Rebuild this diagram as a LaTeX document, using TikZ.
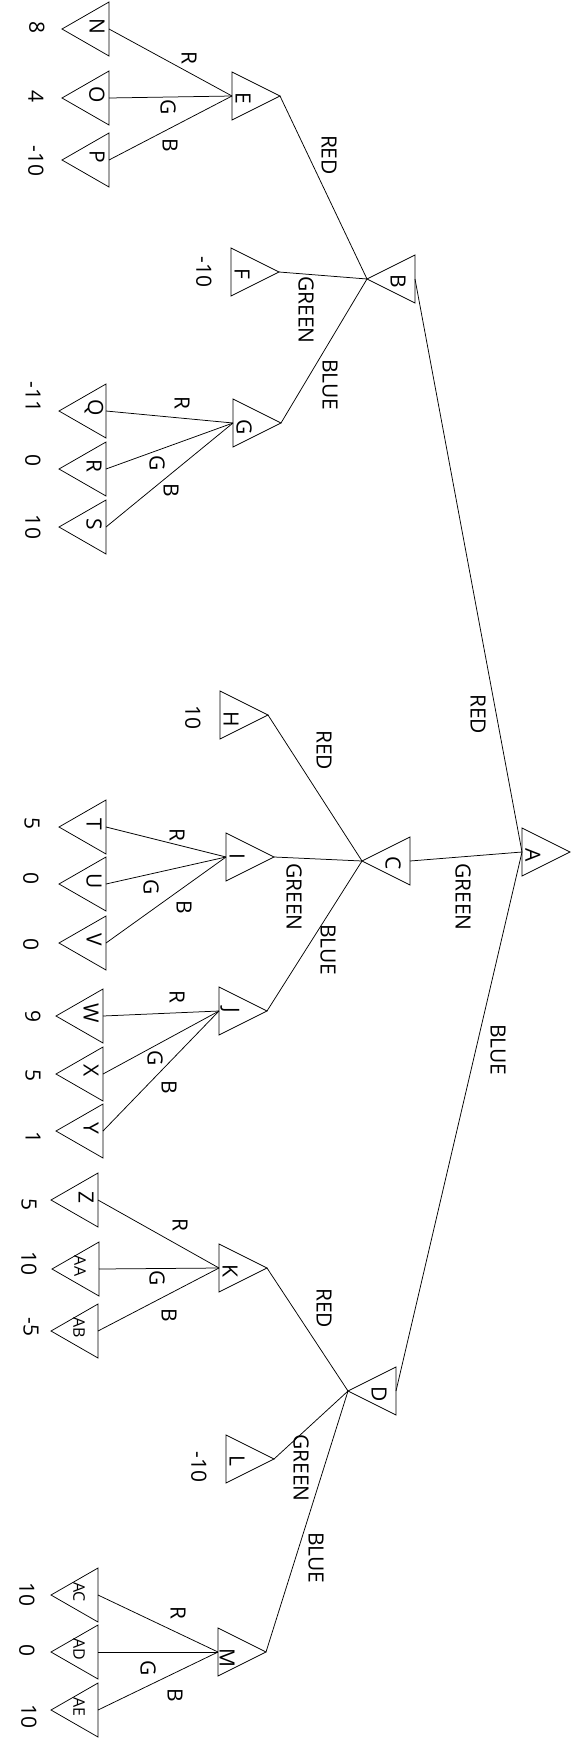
\documentclass[tikz,border=0pt]{standalone}
\usepackage{fontspec}
\setmainfont{Open Sans}
\newcommand{\maxtri}[5][11]{%
  \coordinate (#2-in) at (#3,#4);
  \coordinate (#2-out) at ({#3+48},#4);
  \draw[tri] (#3,{#4-24}) -- ({#3+48},#4) -- (#3,{#4+24}) -- cycle;
  \node[nlbl, anchor=west] (#2) at ({#3+#1},{#4-4}) {#5};
}
\newcommand{\mintri}[4]{%
  \coordinate (#1-out) at (#2,#3);
  \coordinate (#1-in) at ({#2-48},#3);
  \draw[tri] (#2,{#3-24}) -- ({#2-48},#3) -- (#2,{#3+24}) -- cycle;
  \node[nlbl, anchor=west] (#1) at ({#2-17},{#3-5}) {#4};
}
\newcommand{\leaftri}[6][12]{%
  \coordinate (#2-out) at (#3,#4);
  \draw[tri] (#3,{#4-27}) -- ({#3-47},#4) -- (#3,{#4+27}) -- cycle;
  \node[#6] (#2) at ({#3-#1},{#4-3}) {#5};
}
\begin{document}
\begin{tikzpicture}[x=1pt,y=-1pt,
  tri/.style={draw=black, line width=0.75pt, line join=miter},
  conn/.style={draw=black, line width=0.75pt},
  nlbl/.style={rotate=-90, inner sep=0pt, font=\fontsize{21}{25}\selectfont},
  lf/.style={rotate=-90, inner sep=0pt, font=\fontsize{21}{25}\selectfont},
  lftwo/.style={rotate=-90, inner sep=0pt, font=\fontsize{16}{19}\selectfont},
  elbl/.style={rotate=-90, inner sep=0pt, font=\fontsize{21}{25}\selectfont},
  vlbl/.style={rotate=-90, inner sep=0pt, font=\fontsize{21}{25}\selectfont}]
\useasboundingbox (0,0) rectangle (571,1745);

% internal nodes
\maxtri{A}{522}{852}{A}
\mintri{B}{415}{279}{B}
\mintri{C}{410}{861}{C}
\mintri{D}{396}{1391}{D}
\maxtri{E}{232}{96}{E}
\maxtri{F}{231}{272}{F}
\maxtri{G}{233}{423}{G}
\maxtri{H}{220}{715}{H}
\maxtri{I}{226}{857}{I}
\maxtri{J}{219}{1011}{J}
\maxtri{K}{219}{1268}{K}
\maxtri{L}{226}{1459}{L}
\maxtri[9]{M}{218}{1652}{M}

% leaves
\leaftri{N}{109}{29}{N}{lf}
\leaftri{O}{109}{98}{O}{lf}
\leaftri{P}{109}{160}{P}{lf}
\leaftri{Q}{106}{411}{Q}{lf}
\leaftri{R}{106}{469}{R}{lf}
\leaftri{S}{106}{527}{S}{lf}
\leaftri{T}{106}{827}{T}{lf}
\leaftri{U}{106}{884}{U}{lf}
\leaftri{V}{106}{943}{V}{lf}
\leaftri{W}{103}{1016}{W}{lf}
\leaftri{X}{103}{1074}{X}{lf}
\leaftri{Y}{103}{1131}{Y}{lf}
\leaftri{Z}{98}{1200}{Z}{lf}
\leaftri[19]{AA}{99}{1269}{AA}{lftwo}
\leaftri[19]{AB}{98}{1331}{AB}{lftwo}
\leaftri[19]{AC}{98}{1595}{AC}{lftwo}
\leaftri[19]{AD}{98}{1652}{AD}{lftwo}
\leaftri[19]{AE}{98}{1710}{AE}{lftwo}

% connectors
\draw[conn] (A-in) -- (B-out);
\draw[conn] (A-in) -- (C-out);
\draw[conn] (A-in) -- (D-out);
\draw[conn] (B-in) -- (E-out);
\draw[conn] (B-in) -- (F-out);
\draw[conn] (B-in) -- (G-out);
\draw[conn] (C-in) -- (H-out);
\draw[conn] (C-in) -- (I-out);
\draw[conn] (C-in) -- (J-out);
\draw[conn] (D-in) -- (K-out);
\draw[conn] (D-in) -- (L-out);
\draw[conn] (D-in) -- (M-out);
\foreach \p/\c in {E/N,E/O,E/P,G/Q,G/R,G/S,I/T,I/U,I/V,J/W,J/X,J/Y,K/Z,K/AA,K/AB,M/AC,M/AD,M/AE}
  \draw[conn] (\p-in) -- (\c-out);

% edge labels
\node[elbl] (lAB) at (478,714) {RED};
\node[elbl] (lAC) at (463,897) {GREEN};
\node[elbl] (lAD) at (498,1050) {BLUE};
\node[elbl] (lBE) at (329,155) {RED};
\node[elbl] (lBF) at (306,310) {GREEN};
\node[elbl] (lBG) at (330,385) {BLUE};
\node[elbl] (lCH) at (324,750) {RED};
\node[elbl] (lCI) at (294,897) {GREEN};
\node[elbl] (lCJ) at (328,950) {BLUE};
\node[elbl] (lDK) at (324,1308) {RED};
\node[elbl] (lDL) at (301,1468) {GREEN};
\node[elbl] (lDM) at (316,1558) {BLUE};
\node[elbl] (lEN) at (189,58) {R};
\node[elbl] (lEO) at (168,107) {G};
\node[elbl] (lEP) at (170,145) {B};
\node[elbl] (lGQ) at (182,403) {R};
\node[elbl] (lGR) at (157,463) {G};
\node[elbl] (lGS) at (171,490) {B};
\node[elbl] (lIT) at (177,835) {R};
\node[elbl] (lIU) at (151,887) {G};
\node[elbl] (lIV) at (184,907) {B};
\node[elbl] (lJW) at (177,997) {R};
\node[elbl] (lJX) at (155,1058) {G};
\node[elbl] (lJY) at (169,1087) {B};
\node[elbl] (lKZ) at (180,1225) {R};
\node[elbl] (lKAA) at (157,1278) {G};
\node[elbl] (lKAB) at (169,1315) {B};
\node[elbl] (lMAC) at (178,1613) {R};
\node[elbl] (lMAD) at (148,1668) {G};
\node[elbl] (lMAE) at (175,1695) {B};

% values
\node[vlbl] (vN) at (37,28) {8};
\node[vlbl] (vO) at (36,97) {4};
\node[vlbl] (vP) at (36,161) {-10};
\node[vlbl] (vF) at (204,272) {-10};
\node[vlbl] (vQ) at (33,397) {-11};
\node[vlbl] (vR) at (33,460) {0};
\node[vlbl] (vS) at (33,527) {10};
\node[vlbl] (vH) at (193,717) {10};
\node[vlbl] (vT) at (32,823) {5};
\node[vlbl] (vU) at (31,878) {0};
\node[vlbl] (vV) at (31,944) {0};
\node[vlbl] (vW) at (33,1016) {9};
\node[vlbl] (vX) at (33,1075) {5};
\node[vlbl] (vY) at (33,1137) {1};
\node[vlbl] (vZ) at (29,1204) {5};
\node[vlbl] (vAA) at (29,1263) {10};
\node[vlbl] (vAB) at (31,1327) {-5};
\node[vlbl] (vL) at (199,1467) {-10};
\node[vlbl] (vAC) at (27,1594) {10};
\node[vlbl] (vAD) at (27,1650) {0};
\node[vlbl] (vAE) at (29,1716) {10};
\end{tikzpicture}
\end{document}
